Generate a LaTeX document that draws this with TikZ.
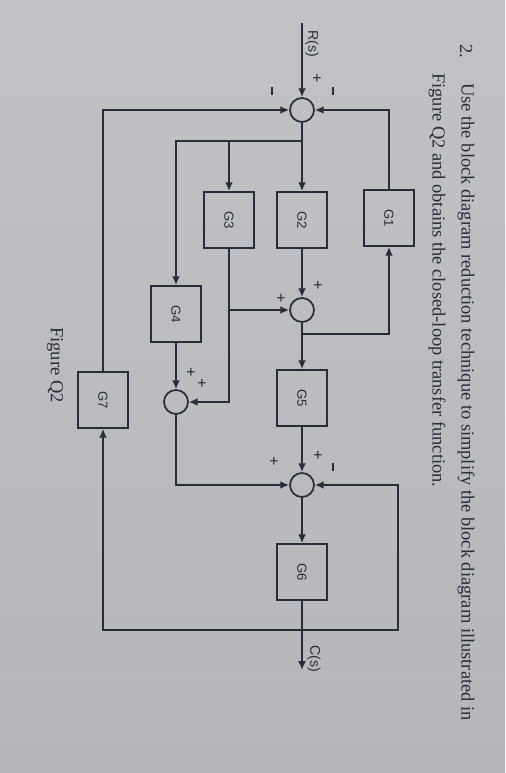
\documentclass[tikz,border=0pt]{standalone}
\usepackage{fontspec}
\setmainfont{Liberation Serif}
\setsansfont{Liberation Sans}
\usepackage{graphicx}
\usetikzlibrary{arrows.meta}
\definecolor{ink}{HTML}{2A2D36}
\definecolor{papertop}{HTML}{C2C2C6}
\definecolor{papermid}{HTML}{D8D8DB}
\definecolor{paperbot}{HTML}{B6B6BA}
\tikzset{
	blk/.style={draw=ink, line width=1pt, minimum width=1cm, minimum height=1.12cm, inner sep=0pt, text=ink, font=\sffamily\fontsize{7.5}{9}\selectfont},
	sum/.style={draw=ink, line width=1pt, circle, minimum size=0.48cm, inner sep=0pt},
	sgn/.style={text=ink, inner sep=0pt, font=\sffamily\fontsize{9}{10}\selectfont},
	wire/.style={draw=ink, line width=1pt},
	txt/.style={text=ink, rotate=-90, inner sep=0pt, font=\fontsize{10.5}{12}\selectfont},
	sig/.style={text=ink, rotate=-90, inner sep=0pt, font=\sffamily\fontsize{8}{9}\selectfont},
	>={Latex[length=5pt,width=4.5pt]}
}
\newcommand{\minussign}{\rule{0.9pt}{4pt}}
\begin{document}
\begin{tikzpicture}[x=0.02cm, y=-0.02cm]
	\useasboundingbox (0,0) rectangle (505,773);
	\shade[top color=papertop, middle color=papermid, bottom color=paperbot] (0,0) rectangle (505,773);

	\node [txt, anchor=west] (num) at (466,44) {2.};
	\node [txt, anchor=west] (q1) at (466,83) {Use the block diagram reduction technique to simplify the block diagram illustrated in};
	\node [txt, anchor=west] (q2) at (437,73) {Figure Q2 and obtains the closed-loop transfer function.};
	\node [txt, anchor=west] (cap) at (55,327) {Figure Q2};

	\node [sum] (s1) at (302,110) {};
	\node [sum] (s2) at (302,310) {};
	\node [sum] (s3) at (176,402) {};
	\node [sum] (s4) at (302,485) {};

	\node [blk] (g1) at (389,218) {\rotatebox{-90}{G1}};
	\node [blk] (g2) at (302,220) {\rotatebox{-90}{G2}};
	\node [blk] (g3) at (229,220) {\rotatebox{-90}{G3}};
	\node [blk] (g4) at (176,314) {\rotatebox{-90}{G4}};
	\node [blk] (g5) at (302,398) {\rotatebox{-90}{G5}};
	\node [blk] (g6) at (302,572) {\rotatebox{-90}{G6}};
	\node [blk] (g7) at (103,400) {\rotatebox{-90}{G7}};

	\coordinate (rin) at (302,23);
	\coordinate (cout) at (302,670);
	\coordinate (b1) at (302,141);
	\coordinate (b2) at (302,334);
	\coordinate (b3) at (229,310);
	\coordinate (b4) at (302,630);
	\coordinate (fr) at (398,630);

	\node [sig, anchor=south west] (rs) at (305,30) {R(s)};
	\node [sig, anchor=south west] (cs) at (307,645) {C(s)};

	\draw [wire, ->] (rin) -- (s1);
	\draw [wire, ->] (s1) -- (g2);
	\draw [wire, ->] (b1) -| (g3);
	\draw [wire, ->] (b1) -| (g4);
	\draw [wire, ->] (g2) -- (s2);
	\draw [wire, ->] (g3) |- (s3);
	\draw [wire, ->] (b3) -- (s2);
	\draw [wire, ->] (s2) -- (g5);
	\draw [wire, ->] (b2) -| (g1);
	\draw [wire, ->] (g1) |- (s1);
	\draw [wire, ->] (g4) -- (s3);
	\draw [wire, ->] (s3) |- (s4);
	\draw [wire, ->] (g5) -- (s4);
	\draw [wire, ->] (s4) -- (g6);
	\draw [wire, ->] (g6) -- (cout);
	\draw [wire, ->] (b4) -- (fr) |- (s4);
	\draw [wire, ->] (b4) -| (g7);
	\draw [wire, ->] (g7) |- (s1);

	\node [sgn] (p1) at (317,79) {+};
	\node [sgn] (m1) at (272,91) {\minussign};
	\node [sgn] (m2) at (333,91) {\minussign};
	\node [sgn] (p2) at (318,286) {+};
	\node [sgn] (p3) at (281,299) {+};
	\node [sgn] (p4) at (191,373) {+};
	\node [sgn] (p5) at (202,384) {+};
	\node [sgn] (p6) at (318,456) {+};
	\node [sgn] (p7) at (274,462) {+};
	\node [sgn] (m3) at (333,467) {\minussign};
\end{tikzpicture}
\end{document}
